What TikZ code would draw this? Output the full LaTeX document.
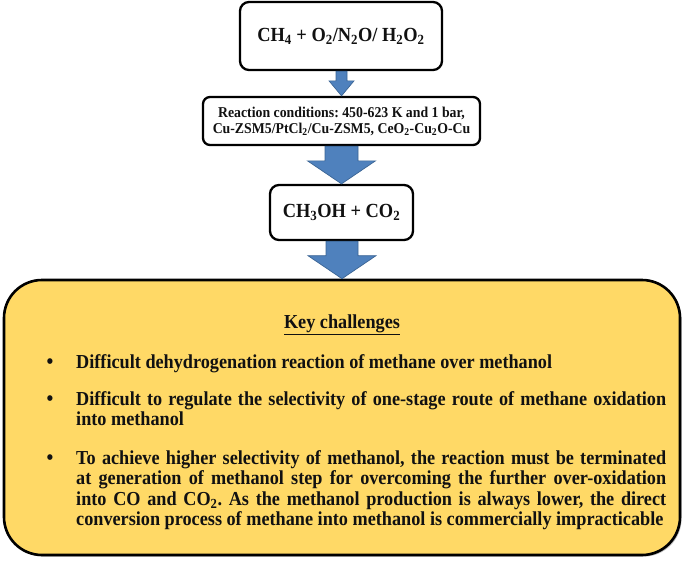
\documentclass[tikz,border=0pt]{standalone}
\usepackage{fontspec}
\setmainfont{Liberation Serif}[FakeStretch=0.92]
\usetikzlibrary{calc,shadows}
\definecolor{flowblue}{HTML}{4F81BD}
\definecolor{flowedge}{HTML}{3A6494}
\definecolor{keyyellow}{HTML}{FFD966}
\definecolor{textdark}{HTML}{111111}
\tikzset{
  stepbox/.style={
    rectangle, rounded corners=9pt, draw=black, line width=2.3pt,
    fill=white, inner sep=0pt, align=center, text=textdark,
    font=\bfseries\fontsize{20}{21}\selectfont
  },
  condbox/.style={
    stepbox, rounded corners=7pt,
    font=\bfseries\fontsize{15}{16}\selectfont
  },
  keybox/.style={
    rectangle, rounded corners=38pt, draw=black, line width=2.6pt,
    fill=keyyellow, inner sep=0pt,
    drop shadow={shadow xshift=1.6pt, shadow yshift=-1.6pt, fill=black!55}
  },
  keytitle/.style={font=\bfseries\fontsize{19.8}{20.6}\selectfont, text=textdark, inner sep=0pt},
  keyitem/.style={
    text width=590pt, align=justify, inner sep=0pt, text=textdark,
    font=\bfseries\fontsize{19.8}{20.6}\selectfont
  },
  keydot/.style={font=\bfseries\fontsize{21}{21}\selectfont, text=textdark, inner sep=0pt},
  flow/.style={fill=flowblue, draw=flowedge, line width=0.7pt, line join=miter}
}
% block arrow from the bottom of #1 down to the top of #2
\newcommand{\blockarrow}[5]{
  \draw[flow] let \p1=(#1.south), \p2=(#2.north) in
    (\x2-#3pt,\y1) -- (\x2-#3pt,\y2+#5pt) -- (\x2-#4pt,\y2+#5pt) -- (\x2,\y2)
    -- (\x2+#4pt,\y2+#5pt) -- (\x2+#3pt,\y2+#5pt) -- (\x2+#3pt,\y1) -- cycle;
}

\begin{document}
\frenchspacing
\begin{tikzpicture}[x=1pt,y=-1pt]
\useasboundingbox (0,0) rectangle (685,560);
\node[stepbox, minimum width=202pt, minimum height=68pt] (feed) at (341,36)
  {CH\textsubscript{4} + O\textsubscript{2}/N\textsubscript{2}O/ H\textsubscript{2}O\textsubscript{2}};
\node[condbox, minimum width=277pt, minimum height=48pt] (cond) at (341.5,121)
  {Reaction conditions: 450-623 K and 1 bar,\\Cu-ZSM5/PtCl\textsubscript{2}/Cu-ZSM5, CeO\textsubscript{2}-Cu\textsubscript{2}O-Cu};
\node[stepbox, minimum width=143pt, minimum height=55pt] (prod) at (341.5,212.5)
  {CH\textsubscript{3}OH + CO\textsubscript{2}};
\node[keybox, minimum width=676pt, minimum height=275pt] (key) at (342,417.5) {};

\blockarrow{feed}{cond}{5.5}{12.5}{15}
\blockarrow{cond}{prod}{16.5}{34}{23}
\blockarrow{prod}{key}{16}{34}{23}

\node[keytitle, anchor=base] (keyhead) at (342,328) {\underline{Key challenges}};
\node[keydot, anchor=base] (dot1) at (50,368) {\textbullet};
\node[keyitem, anchor=base west] (item1) at (76,368)
  {Difficult dehydrogenation reaction of methane over methanol};
\node[keydot, anchor=base] (dot2) at (50,405) {\textbullet};
\node[keyitem, anchor=base west] (item2) at (76,405)
  {Difficult to regulate the selectivity of one-stage route of methane oxidation\linebreak into methanol};
\node[keydot, anchor=base] (dot3) at (50,464) {\textbullet};
\node[keyitem, anchor=base west] (item3) at (76,464)
  {\parfillskip=0pt To achieve higher selectivity of methanol, the reaction must be terminated\linebreak
   at generation of methanol step for overcoming the further over-oxidation\linebreak
   into CO and CO\textsubscript{2}. As the methanol production is always lower, the direct\linebreak
   conversion process of methane into methanol is commercially impracticable};
\end{tikzpicture}
\end{document}
